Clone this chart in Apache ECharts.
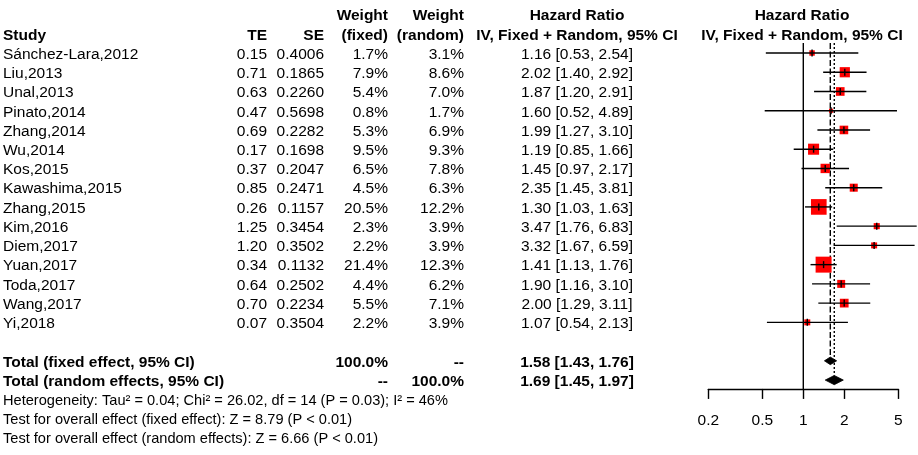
<!DOCTYPE html>
<html><head><meta charset="utf-8">
<script src="https://cdn.jsdelivr.net/npm/echarts@6/dist/echarts.min.js"></script>
<style>html,body{margin:0;padding:0;background:#fff}#c{width:918px;height:455px}</style>
</head><body><div id="c"></div>
<script>
// ---------- data ----------
const studies = ['Sánchez-Lara,2012','Liu,2013','Unal,2013','Pinato,2014','Zhang,2014','Wu,2014','Kos,2015','Kawashima,2015','Zhang,2015','Kim,2016','Diem,2017','Yuan,2017','Toda,2017','Wang,2017','Yi,2018'];
const te = [0.15,0.71,0.63,0.47,0.69,0.17,0.37,0.85,0.26,1.25,1.20,0.34,0.64,0.70,0.07];
const se = [0.4006,0.1865,0.2260,0.5698,0.2282,0.1698,0.2047,0.2471,0.1157,0.3454,0.3502,0.1132,0.2502,0.2234,0.3504];
const weightFixed = [1.7,7.9,5.4,0.8,5.3,9.5,6.5,4.5,20.5,2.3,2.2,21.4,4.4,5.5,2.2];
const weightRandom = [3.1,8.6,7.0,1.7,6.9,9.3,7.8,6.3,12.2,3.9,3.9,12.3,6.2,7.1,3.9];
const hr = [1.16,2.02,1.87,1.60,1.99,1.19,1.45,2.35,1.30,3.47,3.32,1.41,1.90,2.00,1.07];
const ciLower = [0.53,1.40,1.20,0.52,1.27,0.85,0.97,1.45,1.03,1.76,1.67,1.13,1.16,1.29,0.54];
const ciUpper = [2.54,2.92,2.91,4.89,3.10,1.66,2.17,3.81,1.63,6.83,6.59,1.76,3.10,3.11,2.13];
const totalFixed = [1.58,1.43,1.76];
const totalRandom = [1.69,1.45,1.97];
const tickValues = [0.2,0.5,1,2,5];
const tickLabels = ['0.2','0.5','1','2','5'];
const heterogeneityText = 'Heterogeneity: Tau² = 0.04; Chi² = 26.02, df = 14 (P = 0.03); I² = 46%';
const testFixedText = 'Test for overall effect (fixed effect): Z = 8.79 (P < 0.01)';
const testRandomText = 'Test for overall effect (random effects): Z = 6.66 (P < 0.01)';

// ---------- layout ----------
const FONT = '"Liberation Sans", Arial, Helvetica, sans-serif';
const FS = 15.5, FS_NOTE = 14.6;
const TOP = 14.52, ROWPX = 19.24;
const LW = 1.4;
const cols = {
  study:{x:3,align:'left'}, te:{x:267,align:'right'}, se:{x:324,align:'right'},
  wf:{x:388,align:'right'}, wr:{x:464,align:'right'}, hr:{x:577,align:'center'},
  plot:{x:802,align:'center'}
};
const texts = [];
function T(col, row, str, bold, fs){ texts.push({x:cols[col].x, align:cols[col].align, row, str, bold:!!bold, fs:fs||FS}); }
T('wf',-2,'Weight',1); T('wr',-2,'Weight',1); T('hr',-2,'Hazard Ratio',1); T('plot',-2,'Hazard Ratio',1);
T('study',-1,'Study',1); T('te',-1,'TE',1); T('se',-1,'SE',1); T('wf',-1,'(fixed)',1); T('wr',-1,'(random)',1);
T('hr',-1,'IV, Fixed + Random, 95% CI',1); T('plot',-1,'IV, Fixed + Random, 95% CI',1);
const fmtCI = (e,l,u) => e.toFixed(2)+' ['+l.toFixed(2)+', '+u.toFixed(2)+']';
studies.forEach((s,i)=>{
  T('study',i,s); T('te',i,te[i].toFixed(2)); T('se',i,se[i].toFixed(4));
  T('wf',i,weightFixed[i].toFixed(1)+'%'); T('wr',i,weightRandom[i].toFixed(1)+'%');
  T('hr',i,fmtCI(hr[i],ciLower[i],ciUpper[i]));
});
const nS = studies.length;
const rowFixed = nS+1, rowRandom = nS+2;
T('study',rowFixed,'Total (fixed effect, 95% CI)',1); T('wf',rowFixed,'100.0%',1); T('wr',rowFixed,'--',1);
T('hr',rowFixed,fmtCI(totalFixed[0],totalFixed[1],totalFixed[2]),1);
T('study',rowRandom,'Total (random effects, 95% CI)',1); T('wf',rowRandom,'--',1); T('wr',rowRandom,'100.0%',1);
T('hr',rowRandom,fmtCI(totalRandom[0],totalRandom[1],totalRandom[2]),1);
T('study',rowRandom+1,heterogeneityText,0,FS_NOTE); T('study',rowRandom+2,testFixedText,0,FS_NOTE); T('study',rowRandom+3,testRandomText,0,FS_NOTE);

const L = Math.log10;
const tickLogs = tickValues.map(L);
const axisRow = 17.46;
const lineTopRow = -0.52;

const chart = echarts.init(document.getElementById('c'), null, {renderer:'canvas'});
chart.setOption({
  animation:false,
  backgroundColor:'#fff',
  grid:[
    {left:0, right:0, top:TOP, height:22*ROWPX},
    {left:708.3, right:19.7, top:TOP, height:(axisRow+2)*ROWPX}
  ],
  xAxis:[
    {gridIndex:0, type:'value', min:0, max:918, show:false},
    {gridIndex:1, type:'value', min:L(tickValues[0]), max:L(tickValues[tickValues.length-1]),
     axisLine:{show:true, onZero:false, lineStyle:{color:'#000', width:LW}},
     axisTick:{show:true, length:10, customValues:tickLogs, lineStyle:{color:'#000', width:LW}},
     axisLabel:{show:true, margin:24, customValues:tickLogs, color:'#000', fontSize:FS, fontFamily:FONT,
       formatter:(v)=>{const k=tickLogs.findIndex(t=>Math.abs(t-v)<1e-6); return k>=0?tickLabels[k]:'';}},
     splitLine:{show:false}}
  ],
  yAxis:[
    {gridIndex:0, type:'value', inverse:true, min:-2, max:20, show:false},
    {gridIndex:1, type:'value', inverse:true, min:-2, max:axisRow, show:false}
  ],
  series:[
    { // reference lines (no effect, fixed, random)
      type:'custom', xAxisIndex:1, yAxisIndex:1, clip:false, silent:true,
      data:[[L(1),lineTopRow,axisRow,0],[L(totalFixed[0]),lineTopRow,rowFixed-0.2,1],[L(totalRandom[0]),lineTopRow,rowRandom-0.24,2]],
      encode:{x:0,y:[1,2]},
      renderItem:(p,api)=>{
        const a=api.coord([api.value(0),api.value(1)]), b=api.coord([api.value(0),api.value(2)]);
        const k=api.value(3);
        const dash = k===0?null:(k===1?[6,2.5]:[2,2]);
        return {type:'line', shape:{x1:a[0],y1:a[1],x2:b[0],y2:b[1]}, style:{stroke:'#000', lineWidth:LW, lineDash:dash}};
      }
    },
    { // study boxes + CIs
      type:'custom', xAxisIndex:1, yAxisIndex:1, clip:false, silent:true,
      data:studies.map((s,i)=>[L(ciLower[i]),L(ciUpper[i]),L(hr[i]),i,weightFixed[i]]),
      encode:{x:[0,1,2],y:3},
      renderItem:(p,api)=>{
        const r=api.value(3);
        const lo=api.coord([api.value(0),r]), hi=api.coord([api.value(1),r]), c=api.coord([api.value(2),r]);
        const s=1.3+3.17*Math.sqrt(api.value(4));
        return {type:'group', children:[
          {type:'rect', shape:{x:c[0]-s/2,y:c[1]-s/2,width:s,height:s}, style:{fill:'#ff0000'}},
          {type:'line', shape:{x1:lo[0],y1:c[1],x2:hi[0],y2:c[1]}, style:{stroke:'#000',lineWidth:LW}},
          {type:'line', shape:{x1:c[0],y1:c[1]-3.5,x2:c[0],y2:c[1]+3.5}, style:{stroke:'#000',lineWidth:LW}}
        ]};
      }
    },
    { // pooled diamonds
      type:'custom', xAxisIndex:1, yAxisIndex:1, clip:false, silent:true,
      data:[[L(totalFixed[1]),L(totalFixed[2]),L(totalFixed[0]),rowFixed,3.8],[L(totalRandom[1]),L(totalRandom[2]),L(totalRandom[0]),rowRandom,4.6]],
      encode:{x:[0,1,2],y:3},
      renderItem:(p,api)=>{
        const r=api.value(3), h=api.value(4);
        const lo=api.coord([api.value(0),r]), hi=api.coord([api.value(1),r]), c=api.coord([api.value(2),r]);
        return {type:'polygon', shape:{points:[[lo[0],c[1]],[c[0],c[1]-h],[hi[0],c[1]],[c[0],c[1]+h]]}, style:{fill:'#000',stroke:'#000',lineWidth:0.8}};
      }
    },
    { // table text
      type:'custom', xAxisIndex:0, yAxisIndex:0, clip:false, silent:true,
      data:texts.map(t=>[t.x,t.row]),
      encode:{x:0,y:1},
      renderItem:(p,api)=>{
        const t=texts[p.dataIndex];
        const c=api.coord([api.value(0),api.value(1)]);
        return {type:'text', x:c[0], y:c[1]+1.5, style:{text:t.str, fill:'#000', font:(t.bold?'bold ':'')+t.fs+'px '+FONT, textAlign:t.align, textVerticalAlign:'middle'}};
      }
    }
  ]
});
</script></body></html>
